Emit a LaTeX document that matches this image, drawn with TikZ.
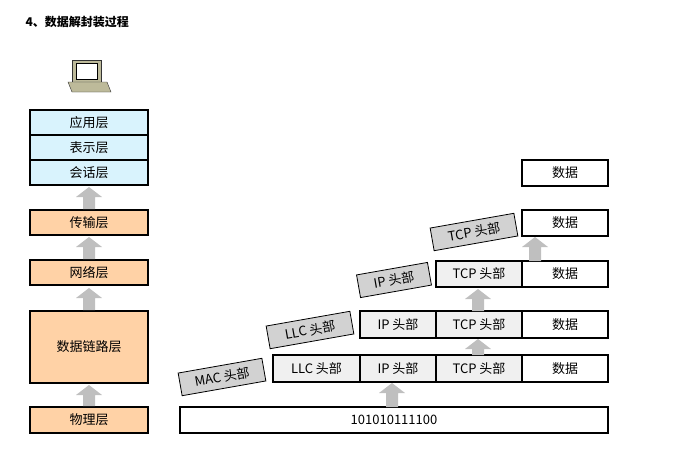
\documentclass[tikz,border=0pt]{standalone}
\usepackage{fontspec}
\setmainfont{Noto Sans CJK SC}
\begin{document}
\begin{tikzpicture}[x=1pt,y=-1pt,
 box/.style={draw,line width=1.2pt,inner sep=0pt,font=\fontsize{13}{15}\selectfont},
 blue/.style={box,fill=cyan!15},
 org/.style={box,fill=orange!35},
 hd/.style={box,fill=gray!12},
 tag/.style={draw,line width=0.8pt,fill=gray!35,inner sep=0pt,minimum width=85pt,minimum height=23pt,rotate=10,font=\fontsize{13}{15}\selectfont},
 up/.style={fill=gray!50,draw=none}]
\useasboundingbox (0,0) rectangle (690,461);
\node[anchor=west,font=\bfseries\fontsize{12}{14}\selectfont] (title) at (22,22) {4、数据解封装过程};
\newcommand{\bx}[6]{\node[#1,minimum width=#4-#3,minimum height=#6-#5] (#2) at ({(#3+#4)/2},{(#5+#6)/2})}
\newcommand{\uparr}[3]{\fill[up] (#1-6,#3) -- (#1-6,{#2+10}) -- (#1-13,{#2+10}) -- (#1,#2) -- (#1+13,{#2+10}) -- (#1+6,{#2+10}) -- (#1+6,#3) -- cycle;}
% computer
\fill[gray!70!olive!60] (72,60) rectangle (101,82);
\draw[gray!40!black] (72,60) rectangle (101,82);
\fill[white] (76,63) rectangle (97,79);\draw (76,63) rectangle (97,79);
\fill[gray!70!olive!60] (68,82) -- (107,82) -- (111,92) -- (72,92) -- cycle;
\draw[gray!40!black] (68,82) -- (107,82) -- (111,92) -- (72,92) -- cycle;
% left stack
\bx{blue}{app}{30}{148}{110}{135} {应用层};
\bx{blue}{pres}{30}{148}{135}{160} {表示层};
\bx{blue}{sess}{30}{148}{160}{185} {会话层};
\bx{org}{trans}{30}{148}{210}{235} {传输层};
\bx{org}{net}{30}{148}{260}{285} {网络层};
\bx{org}{link}{30}{148}{311}{383} {数据链路层};
\bx{org}{phy}{30}{148}{407}{433} {物理层};
\uparr{89}{187}{209}
\uparr{89}{237}{259}
\uparr{89}{288}{310}
\uparr{89}{385}{406}
% right
\bx{box}{bits}{180}{608}{407}{433} {101010111100};
\bx{hd}{llc1}{273}{360}{355}{382} {LLC 头部};
\bx{hd}{ip1}{360}{436}{355}{382} {IP 头部};
\bx{hd}{tcp1}{436}{522}{355}{382} {TCP 头部};
\bx{box}{d1}{522}{608}{355}{382} {数据};
\bx{hd}{ip2}{360}{436}{311}{338} {IP 头部};
\bx{hd}{tcp2}{436}{522}{311}{338} {TCP 头部};
\bx{box}{d2}{522}{608}{311}{338} {数据};
\bx{hd}{tcp3}{436}{522}{261}{287} {TCP 头部};
\bx{box}{d3}{522}{608}{261}{287} {数据};
\bx{box}{d4}{522}{608}{210}{236} {数据};
\bx{box}{d5}{522}{608}{160}{186} {数据};
\uparr{392}{383}{407}
\uparr{478}{339}{355}
\uparr{478}{289}{311}
\uparr{535}{237}{261}
\node[tag] (mac) at (222,377) {MAC 头部};
\node[tag] (llct) at (310,330) {LLC 头部};
\node[tag,minimum width=72pt] (ipt) at (394,280) {IP 头部};
\node[tag] (tcpt) at (474,232) {TCP 头部};
\end{tikzpicture}
\end{document}
